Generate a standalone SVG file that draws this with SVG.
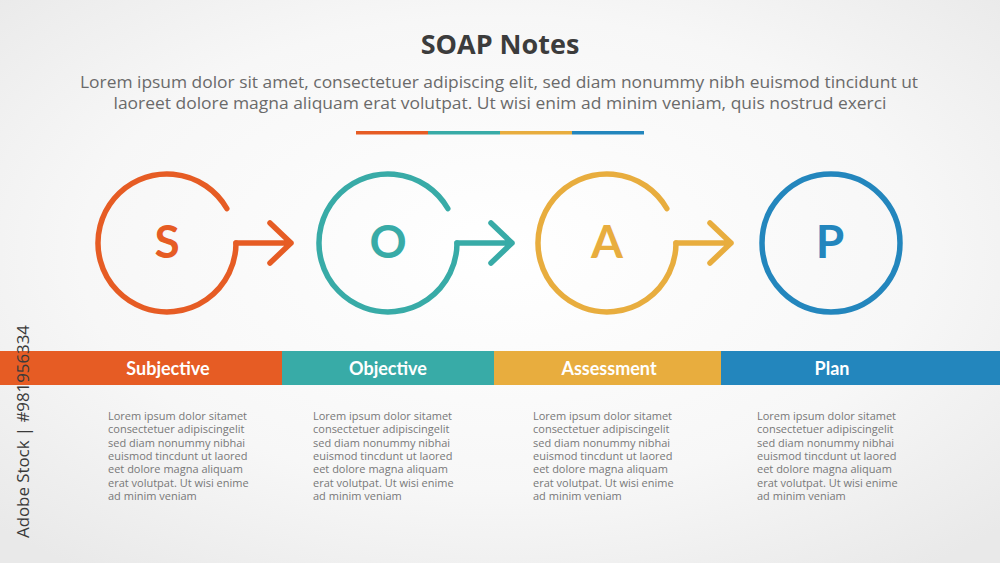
<svg xmlns="http://www.w3.org/2000/svg" width="1000" height="563" viewBox="0 0 1000 563">
<defs>
<radialGradient id="bg" cx="50%" cy="45%" r="70%">
<stop offset="0" stop-color="#ffffff"/>
<stop offset="0.6" stop-color="#f7f7f7"/>
<stop offset="1" stop-color="#e9e9e9"/>
</radialGradient>
<style>
.ring{fill:none;stroke-width:5.5;stroke-linecap:round;stroke-linejoin:round}
.arr{fill:none;stroke-width:5.5;stroke-linecap:round;stroke-linejoin:round}
.letter{font-family:Lato,"Open Sans",sans-serif;font-weight:700;font-size:46px;text-anchor:middle}
.band{font-family:Lato,"Open Sans",sans-serif;font-weight:700;font-size:18px;fill:#ffffff;text-anchor:middle}
.body{font-family:"Open Sans","Liberation Sans",sans-serif;font-size:11px;fill:#787878}
.sub{font-family:"Open Sans","Liberation Sans",sans-serif;font-size:15.5px;fill:#6a6a6a;text-anchor:middle}
.o{stroke:#E65C24}.t{stroke:#38ABA7}.y{stroke:#E8AD3E}.b{stroke:#2386BD}
</style>
</defs>
<rect width="1000" height="563" fill="url(#bg)"/>
<g id="header">
<text x="500" y="54" font-family="'Open Sans','Liberation Sans',sans-serif" font-weight="700" font-size="27" fill="#3c3c3c" text-anchor="middle">SOAP Notes</text>
<text class="sub" x="499" y="88" textLength="838" lengthAdjust="spacingAndGlyphs">Lorem ipsum dolor sit amet, consectetuer adipiscing elit, sed diam nonummy nibh euismod tincidunt ut</text>
<text class="sub" x="500" y="108.5" textLength="773" lengthAdjust="spacingAndGlyphs">laoreet dolore magna aliquam erat volutpat. Ut wisi enim ad minim veniam, quis nostrud exerci</text>
<rect x="356" y="131" width="72" height="3.5" fill="#E65C24"/>
<rect x="428" y="131" width="72" height="3.5" fill="#38ABA7"/>
<rect x="500" y="131" width="72" height="3.5" fill="#E8AD3E"/>
<rect x="572" y="131" width="72" height="3.5" fill="#2386BD"/>
</g>
<g id="node-s">
<path class="ring o" d="M226.8,208.5 A69,69 0 1 0 236,243"/>
<text class="letter" x="167" y="258" fill="#E65C24">S</text>
<rect x="0" y="351" width="282" height="34" fill="#E65C24"/>
<text class="band" x="168" y="374.5">Subjective</text>
<text class="body" x="108"><tspan x="108" y="420">Lorem ipsum dolor sitamet</tspan><tspan x="108" dy="13.3">consectetuer adipiscingelit</tspan><tspan x="108" dy="13.3">sed diam nonummy nibhai</tspan><tspan x="108" dy="13.3">euismod tincdunt ut laored</tspan><tspan x="108" dy="13.3">eet dolore magna aliquam</tspan><tspan x="108" dy="13.3">erat volutpat. Ut wisi enime</tspan><tspan x="108" dy="13.3">ad minim veniam</tspan></text>
</g>
<g id="node-o">
<path class="ring t" d="M447.8,208.5 A69,69 0 1 0 457,243"/>
<text class="letter" x="388" y="258" fill="#38ABA7">O</text>
<rect x="282" y="351" width="212" height="34" fill="#38ABA7"/>
<text class="band" x="388" y="374.5">Objective</text>
<text class="body" x="313"><tspan x="313" y="420">Lorem ipsum dolor sitamet</tspan><tspan x="313" dy="13.3">consectetuer adipiscingelit</tspan><tspan x="313" dy="13.3">sed diam nonummy nibhai</tspan><tspan x="313" dy="13.3">euismod tincdunt ut laored</tspan><tspan x="313" dy="13.3">eet dolore magna aliquam</tspan><tspan x="313" dy="13.3">erat volutpat. Ut wisi enime</tspan><tspan x="313" dy="13.3">ad minim veniam</tspan></text>
</g>
<g id="node-a">
<path class="ring y" d="M666.8,208.5 A69,69 0 1 0 676,243"/>
<text class="letter" x="607" y="258" fill="#E8AD3E">A</text>
<rect x="494" y="351" width="227" height="34" fill="#E8AD3E"/>
<text class="band" x="609" y="374.5">Assessment</text>
<text class="body" x="533"><tspan x="533" y="420">Lorem ipsum dolor sitamet</tspan><tspan x="533" dy="13.3">consectetuer adipiscingelit</tspan><tspan x="533" dy="13.3">sed diam nonummy nibhai</tspan><tspan x="533" dy="13.3">euismod tincdunt ut laored</tspan><tspan x="533" dy="13.3">eet dolore magna aliquam</tspan><tspan x="533" dy="13.3">erat volutpat. Ut wisi enime</tspan><tspan x="533" dy="13.3">ad minim veniam</tspan></text>
</g>
<g id="node-p">
<circle class="ring b" cx="831" cy="243" r="69"/>
<text class="letter" x="830" y="258" fill="#2386BD">P</text>
<rect x="721" y="351" width="279" height="34" fill="#2386BD"/>
<text class="band" x="832" y="374.5">Plan</text>
<text class="body" x="757"><tspan x="757" y="420">Lorem ipsum dolor sitamet</tspan><tspan x="757" dy="13.3">consectetuer adipiscingelit</tspan><tspan x="757" dy="13.3">sed diam nonummy nibhai</tspan><tspan x="757" dy="13.3">euismod tincdunt ut laored</tspan><tspan x="757" dy="13.3">eet dolore magna aliquam</tspan><tspan x="757" dy="13.3">erat volutpat. Ut wisi enime</tspan><tspan x="757" dy="13.3">ad minim veniam</tspan></text>
</g>
<g id="connectors">
<path class="arr o" d="M236,243 H291 M270,223 L291,243 L270,263"/>
<path class="arr t" d="M457,243 H512 M491,223 L512,243 L491,263"/>
<path class="arr y" d="M676,243 H731 M710,223 L731,243 L710,263"/>
</g>
<text transform="translate(29,431.5) rotate(-90)" x="0" y="0" font-family="'Open Sans','Liberation Sans',sans-serif" font-size="17" fill="#3a3a3a" text-anchor="middle" textLength="213" lengthAdjust="spacingAndGlyphs">Adobe Stock | #981956334</text>
</svg>
